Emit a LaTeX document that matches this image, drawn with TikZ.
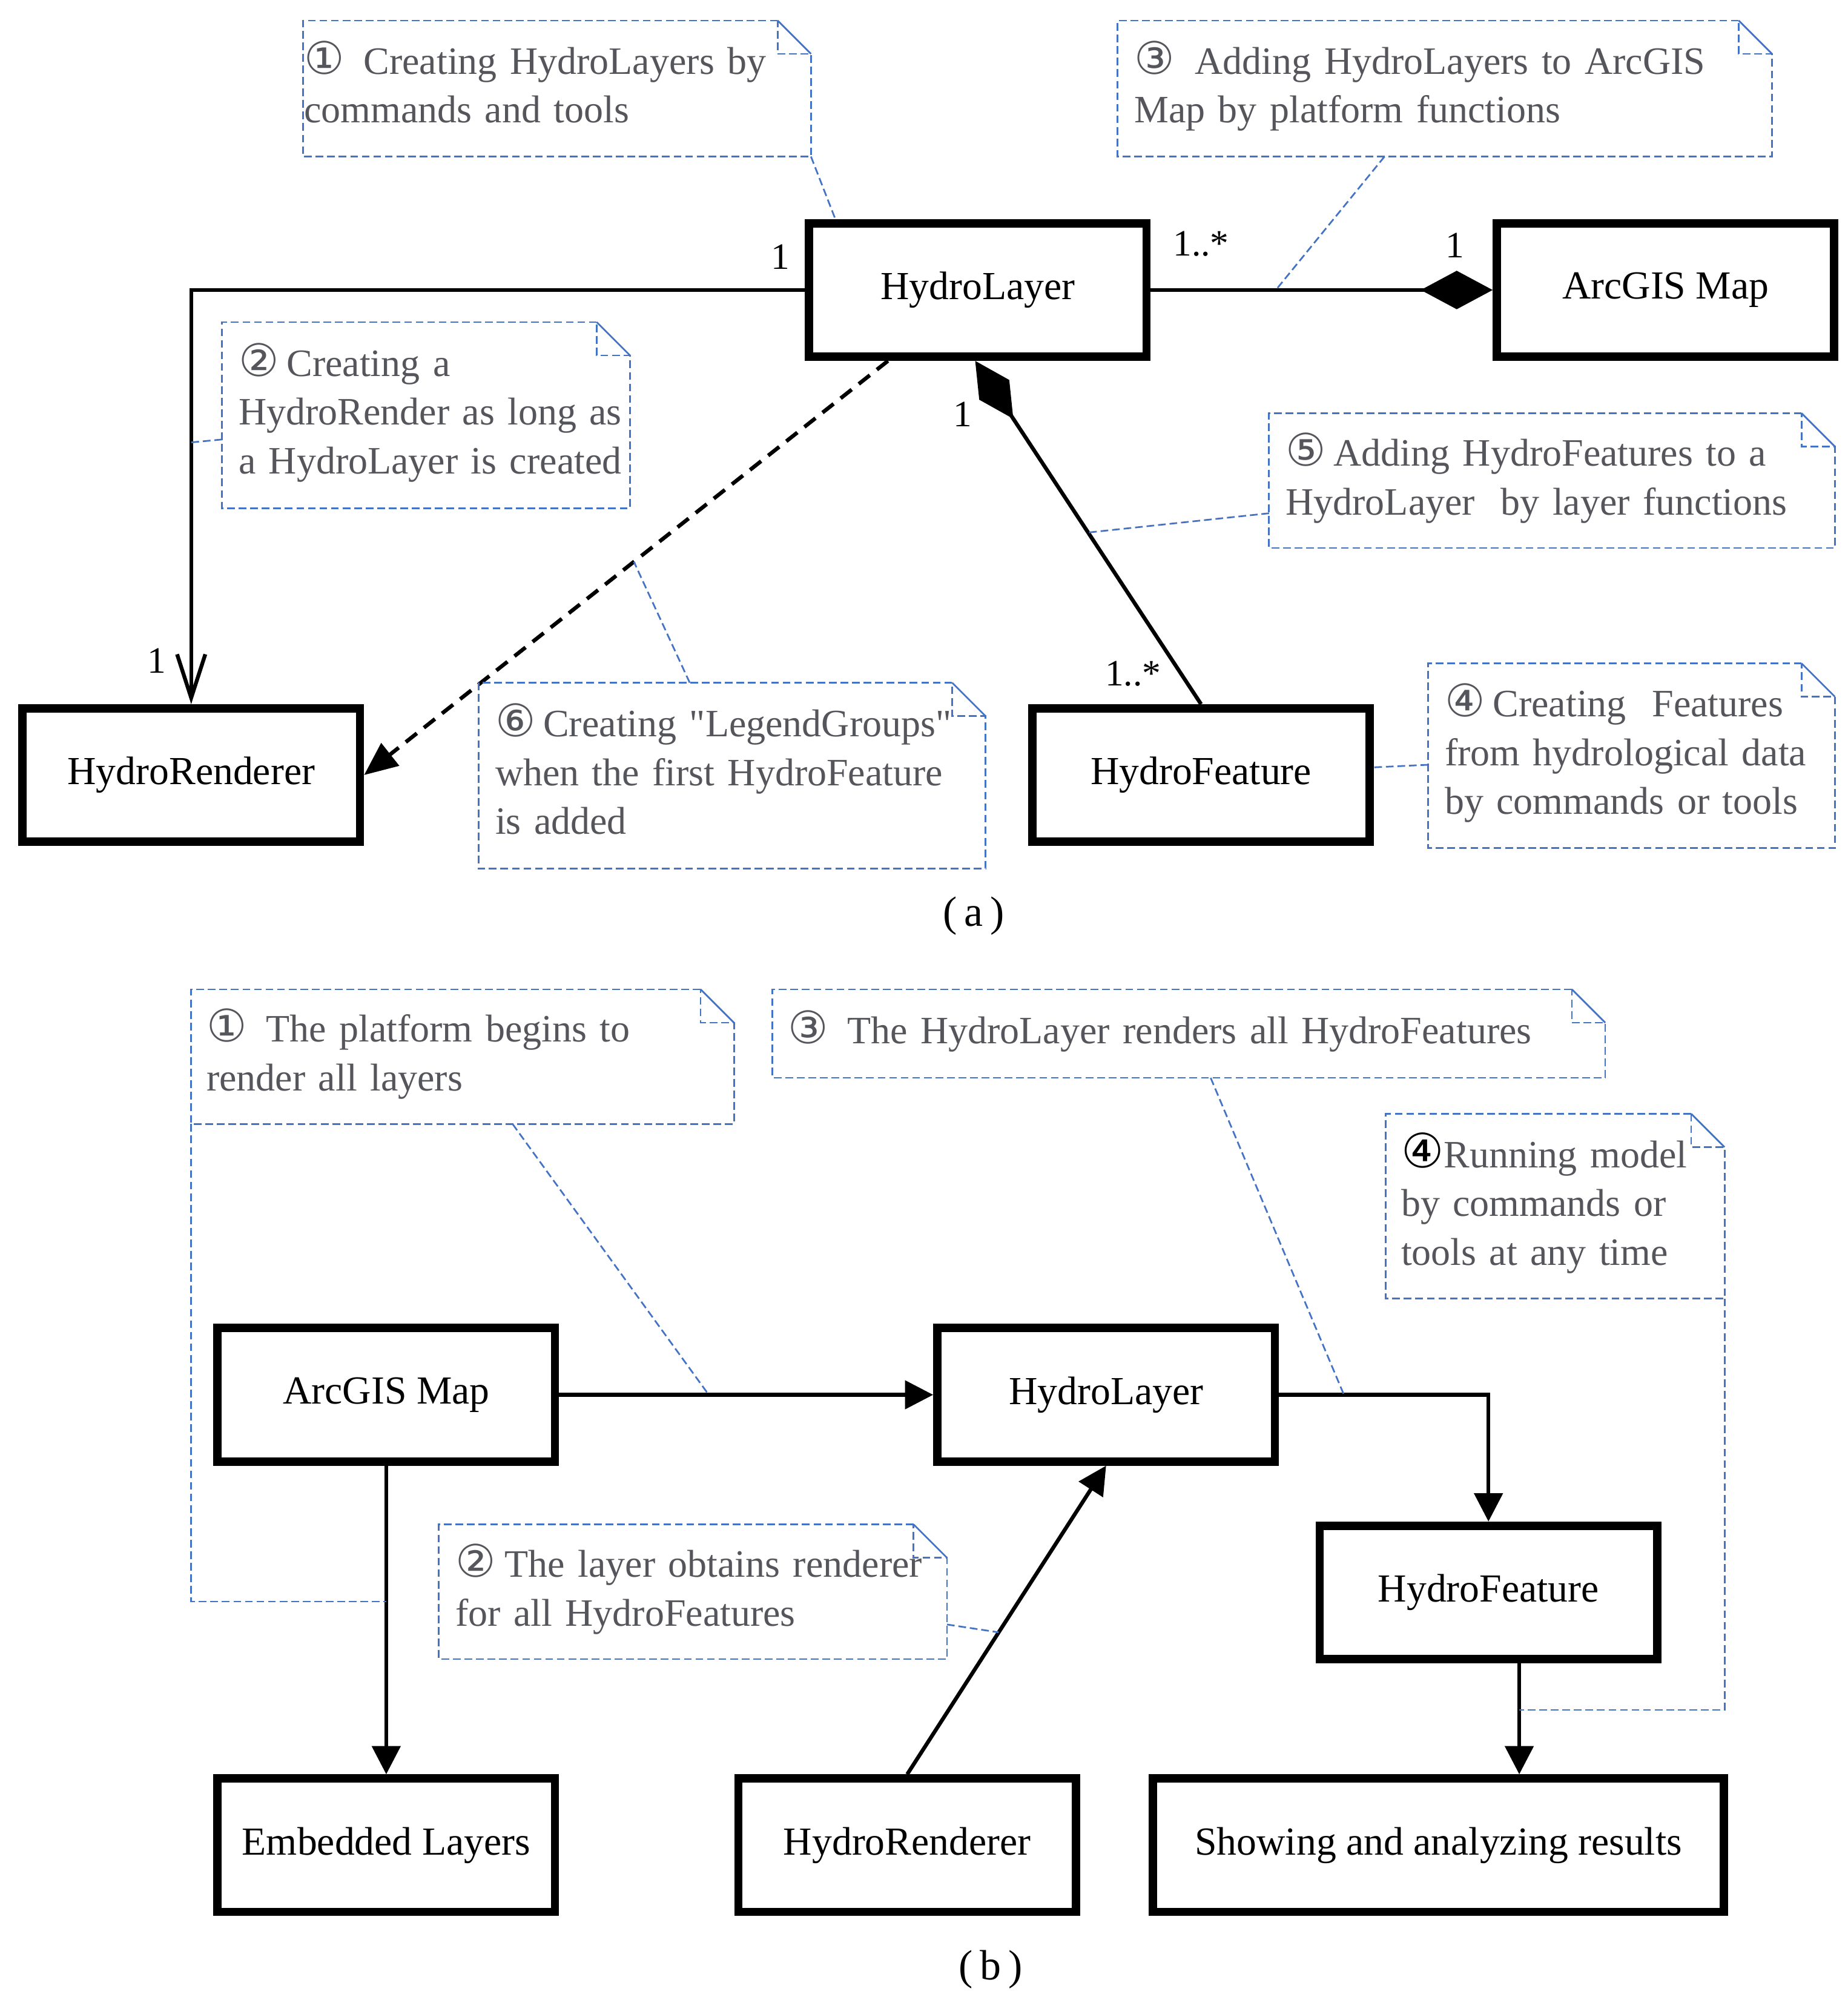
\documentclass[tikz,border=0pt]{standalone}
\usepackage{fontspec}
\setmainfont{Liberation Serif}
\newfontfamily\plainserif{Liberation Serif}
\newfontfamily\circledfont{DejaVu Sans}
\usetikzlibrary{arrows.meta}
\definecolor{noteblue}{RGB}{68,114,196}
\definecolor{notegrey}{RGB}{85,85,92}
\newcommand\hlboxfont{\fontsize{31}{38}\selectfont}
\newcommand\hlnotefont{\fontsize{30.2}{38}\selectfont}
\newcommand\hlmultfont{\fontsize{29}{34}\selectfont}
\newcommand\cnum[1]{{\circledfont\fontsize{35}{38}\selectfont #1}}
\newcommand\nlines[1]{\begin{tabular}{@{}l@{}}#1\end{tabular}}
\newcommand\sq{{\plainserif"}}
\newcommand\notefold[1]{%
  \draw[noteline] ([xshift=-26pt]#1.north east) -- (#1.north west) -- (#1.south west) -- (#1.south east)
     -- ([yshift=-26pt]#1.north east) -- ([xshift=-26pt,yshift=-26pt]#1.north east) -- cycle;
  \draw[notediag] ([xshift=-26pt]#1.north east) -- ([yshift=-26pt]#1.north east);}
\begin{document}
\begin{tikzpicture}[x=1pt,y=-1pt,
  cls/.style={draw, line width=6.5pt, minimum width=263pt, minimum height=104pt, inner sep=0pt, font=\hlboxfont, fill=white},
  assoc/.style={line width=3pt, black},
  dep/.style={line width=3pt, dash pattern=on 11pt off 7pt, -{Triangle[length=26pt,width=22pt]}},
  flow/.style={line width=3pt, -{Triangle[length=22pt,width=22pt]}},
  noteline/.style={draw=noteblue, line width=1.3pt, dash pattern=on 6pt off 3pt},
  notediag/.style={draw=noteblue, line width=1.3pt},
  noteconn/.style={draw=noteblue, line width=1.3pt, dash pattern=on 6pt off 3pt},
  notetext/.style={anchor=north west, inner ysep=0pt, outer sep=0pt, align=left, font=\hlnotefont, text=notegrey},
  mult/.style={font=\hlmultfont, inner sep=0pt},
  captext/.style={font=\fontsize{33}{38}\selectfont, inner sep=0pt}
]
\useasboundingbox (0,0) rectangle (1440,1561);

% ---------------- (a) ----------------
\node[cls] (hlA) at (762,226) {HydroLayer};
\node[cls] (mapA) at (1298,226) {ArcGIS Map};
\node[cls] (renA) at (149,604) {HydroRenderer};
\node[cls] (featA) at (936,604) {HydroFeature};

\draw[assoc, -{Straight Barb[length=34pt,width=22pt]}] (hlA.west) -- (renA.north |- hlA.west)
   -- coordinate[pos=0.368] (c2a) (renA.north);
\draw[assoc, -{Diamond[length=56pt,width=30pt]}] (hlA.east) -- coordinate[pos=0.366] (c3a) (mapA.west);
\draw[dep] ([xshift=-70pt]hlA.south) -- coordinate[pos=0.485] (c6a) (renA.east);
\draw[assoc, {Diamond[length=54pt,width=28pt]}-] ([xshift=-2pt]hlA.south) -- coordinate[pos=0.5] (c5a) (featA.north);

\node[mult] (m1) at (608,200) {1};
\node[mult] (m2) at (122,515) {1};
\node[mult] (m3) at (936,190) {1..*};
\node[mult] (m4) at (1134,191) {1};
\node[mult] (m5) at (750,323) {1};
\node[mult] (m6) at (883,525) {1..*};

\node[notetext, inner xsep=1pt, text width=394pt, minimum height=106pt] (n1a) at (236,16)
  {\nlines{\cnum{①}\hspace{15pt}Creating HydroLayers by\\commands and tools}};
\node[notetext, inner xsep=13pt, text width=292pt, minimum height=145pt] (n2a) at (173,251)
  {\nlines{\cnum{②}\hspace{6pt}Creating a\\HydroRender as long as\\a HydroLayer is created}};
\node[notetext, inner xsep=13pt, text width=484pt, minimum height=106pt] (n3a) at (871,16)
  {\nlines{\cnum{③}\hspace{16pt}Adding HydroLayers to ArcGIS\\Map by platform functions}};
\node[notetext, inner xsep=13pt, text width=415pt, minimum height=105pt] (n5a) at (989,322)
  {\nlines{\cnum{⑤}\hspace{6pt}Adding HydroFeatures to a\\HydroLayer\ \ by layer functions}};
\node[notetext, inner xsep=13pt, text width=369pt, minimum height=145pt] (n6a) at (373,532)
  {\nlines{\cnum{⑥}\hspace{6pt}Creating \sq LegendGroups\sq\\when the first HydroFeature\\is added}};
\node[notetext, inner xsep=13pt, text width=291pt, minimum height=144pt] (n4a) at (1113,517)
  {\nlines{\cnum{④}\hspace{6pt}Creating\ \ Features\\from hydrological data\\by commands or tools}};

\notefold{n1a}\notefold{n2a}\notefold{n3a}\notefold{n5a}\notefold{n6a}\notefold{n4a}

\draw[noteconn] (n1a.south east) -- ([xshift=-111pt]hlA.north);
\draw[noteconn] ([yshift=-19pt]n2a.west) -- (c2a);
\draw[noteconn] ([xshift=-47pt]n3a.south) -- (c3a);
\draw[noteconn] ([yshift=-25.5pt]n5a.west) -- (c5a);
\draw[noteconn] ([xshift=-33pt]n6a.north) -- (c6a);
\draw[noteconn] ([yshift=-7pt]n4a.west) -- ([yshift=6pt]featA.east);

\node[captext] (capa) at (759,714) {(\,a\,)};

% ---------------- (b) ----------------
\node[cls] (mapB) at (301,1087) {ArcGIS Map};
\node[cls] (hlB) at (862,1087) {HydroLayer};
\node[cls] (featB) at (1160,1241) {HydroFeature};
\node[cls] (embB) at (301,1438) {Embedded Layers};
\node[cls] (renB) at (707,1438) {HydroRenderer};
\node[cls, minimum width=445pt] (showB) at (1121,1438) {Showing and analyzing results};

\draw[flow] (mapB.east) -- coordinate[pos=0.40] (c1b) (hlB.west);
\draw[flow] (hlB.east) -- coordinate[pos=0.31] (c3b) (featB.north |- hlB.east) -- (featB.north);
\draw[flow] (mapB.south) -- coordinate[pos=0.44] (c1bb) (embB.north);
\draw[flow] (renB.north) -- coordinate[pos=0.46] (c2b) (hlB.south);
\draw[flow] ([xshift=24pt]featB.south) -- coordinate[pos=0.42] (c4b) ([xshift=24pt]featB.south |- showB.north);

\node[notetext, inner xsep=12pt, text width=399pt, minimum height=105pt] (n1b) at (149,771)
  {\nlines{\cnum{①}\hspace{15pt}The platform begins to\\render all layers}};
\node[notetext, inner xsep=12pt, text width=625pt, minimum height=69pt] (n3b) at (602,771)
  {\nlines{\cnum{③}\hspace{15pt}The HydroLayer renders all HydroFeatures}};
\node[notetext, inner xsep=12pt, text width=240pt, minimum height=144pt] (n4b) at (1080,868)
  {\nlines{{\color{black}\circledfont\fontsize{37}{38}\selectfont ④}Running model\\by commands or\\tools at any time}};
\node[notetext, inner xsep=13pt, text width=370pt, minimum height=105pt] (n2b) at (342,1188)
  {\nlines{\cnum{②}\hspace{7pt}The layer obtains renderer\\for all HydroFeatures}};

\notefold{n1b}\notefold{n3b}\notefold{n4b}\notefold{n2b}

\draw[noteconn] ([xshift=39pt]n1b.south) -- (c1b);
\draw[noteconn] (n1b.south west) -- (n1b.south west |- c1bb) -- (c1bb);
\draw[noteconn] ([xshift=17pt]n3b.south) -- (c3b);
\draw[noteconn] (n4b.south east) -- (n4b.south east |- c4b) -- (c4b);
\draw[noteconn] ([yshift=-25.5pt]n2b.east) -- (c2b);

\node[captext] (capb) at (772,1535) {(\,b\,)};
\end{tikzpicture}
\end{document}
